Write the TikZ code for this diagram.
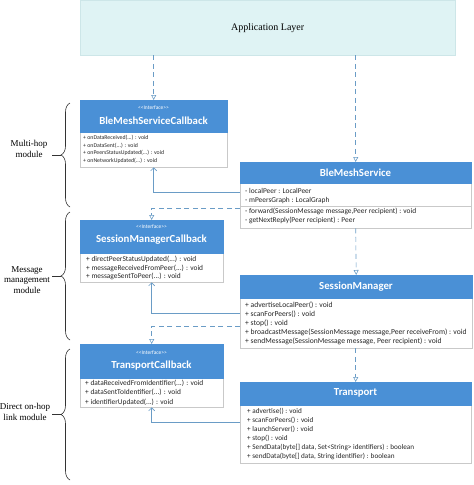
\documentclass[tikz,border=0pt]{standalone}
\usepackage{fontspec}
\setmainfont{Liberation Serif}
\newfontfamily\classfont{Carlito}
\usetikzlibrary{arrows.meta,decorations.pathreplacing}
\definecolor{hblue}{HTML}{4A90D6}
\definecolor{appfill}{HTML}{DFF3F4}
\definecolor{appline}{HTML}{CDE6E8}
\definecolor{conn}{HTML}{6A9CC6}
\definecolor{boxline}{HTML}{C9C9C9}
\definecolor{memtxt}{HTML}{262626}
\tikzset{
  appbox/.style={draw=appline, fill=appfill, anchor=north west, font=\fontsize{10}{12}\selectfont},
  cbox/.style={draw=boxline, fill=white, anchor=north west, inner sep=0pt},
  hdr/.style={fill=hblue, draw=hblue, anchor=north west, inner sep=0pt},
  stereo/.style={text=white, font=\classfont\fontsize{5.5}{6}\selectfont, inner sep=0pt},
  ctitle/.style={text=white, font=\classfont\bfseries\fontsize{10.8}{12}\selectfont, inner sep=0pt},
  members/.style={text=memtxt, anchor=north west, align=left, inner sep=0pt, font=\classfont\fontsize{7.4}{9.2}\selectfont},
  realize/.style={conn, semithick, dash pattern=on 5pt off 3.5pt, -{Triangle[open, length=5pt, width=5pt]}},
  assoc/.style={conn, semithick, -{Straight Barb[length=3pt, width=6pt]}},
  lbl/.style={align=center, font=\fontsize{9}{10.5}\selectfont, inner sep=0pt},
  bracedraw/.style={draw=black!80, semithick, decorate, decoration={brace, amplitude=9pt}}
}
\begin{document}
\begin{tikzpicture}[x=1pt,y=-1pt]
\useasboundingbox (0,0) rectangle (474,485);

% Application layer
\node[appbox, minimum width=375pt, minimum height=55pt] (app) at (80,0) {Application Layer};

% BleMeshServiceCallback
\node[cbox, minimum width=147pt, minimum height=67pt] (bmsc) at (80,100) {};
\node[hdr, minimum width=147pt, minimum height=32pt] (bmscH) at (80,100) {};
\node[stereo] (bmscS) at (153.5,108) {<<Interface>>};
\node[ctitle] (bmscT) at (153.5,121) {BleMeshServiceCallback};
\node[members, font=\classfont\fontsize{5.8}{7.7}\selectfont] (bmscM) at (83,135) {+ onDataReceived(...) : void\\+ onDataSent(...) : void\\+ onPeersStatusUpdated(...) : void\\+ onNetworkUpdated(...) : void};

% BleMeshService
\node[cbox, minimum width=231pt, minimum height=66pt] (bms) at (240,162) {};
\node[hdr, minimum width=231pt, minimum height=21pt] (bmsH) at (240,162) {};
\node[ctitle] (bmsT) at (355.5,173) {BleMeshService};
\node[members, font=\classfont\fontsize{7.4}{9.5}\selectfont] (bmsA) at (245,188) {- localPeer : LocalPeer\\- mPeersGraph : LocalGraph};
\draw[boxline] (bms.west |- 0,206.5) -- (bms.east |- 0,206.5);
\node[members] (bmsO) at (245,207.5) {- forward(SessionMessage message,Peer recipient) : void\\- getNextReply(Peer recipient) : Peer};

% SessionManagerCallback
\node[cbox, minimum width=143pt, minimum height=62pt] (smc) at (80,220) {};
\node[hdr, minimum width=143pt, minimum height=33pt] (smcH) at (80,220) {};
\node[stereo] (smcS) at (151.5,227) {<<Interface>>};
\node[ctitle] (smcT) at (151.5,240) {SessionManagerCallback};
\node[members, font=\classfont\fontsize{7.4}{8.6}\selectfont] (smcM) at (86,256) {+ directPeerStatusUpdated(...) : void\\+ messageReceivedFromPeer(...) : void\\+ messageSentToPeer(...) : void};

% SessionManager
\node[cbox, minimum width=232pt, minimum height=73pt] (sm) at (240,275) {};
\node[hdr, minimum width=232pt, minimum height=23pt] (smH) at (240,275) {};
\node[ctitle] (smT) at (356,287) {SessionManager};
\node[members, font=\classfont\fontsize{7.6}{8.9}\selectfont] (smM) at (245,302) {+ advertiseLocalPeer() : void\\+ scanForPeers() : void\\+ stop() : void\\+ broadcastMessage(SessionMessage message,Peer receiveFrom) : void\\+ sendMessage(SessionMessage message, Peer recipient) : void};

% TransportCallback
\node[cbox, minimum width=143pt, minimum height=63pt] (tc) at (80,344) {};
\node[hdr, minimum width=143pt, minimum height=34pt] (tcH) at (80,344) {};
\node[stereo] (tcS) at (151.5,353) {<<Interface>>};
\node[ctitle] (tcT) at (151.5,366) {TransportCallback};
\node[members] (tcM) at (85,380) {+ dataReceivedFromIdentifier(...) : void\\+ dataSentToIdentifier(...) : void\\+ identifierUpdated(...) : void};

% Transport
\node[cbox, minimum width=231pt, minimum height=81pt] (tr) at (240,382) {};
\node[hdr, minimum width=231pt, minimum height=23pt] (trH) at (240,382) {};
\node[ctitle] (trT) at (355.5,393) {Transport};
\node[members, font=\classfont\fontsize{7.2}{9}\selectfont] (trM) at (247,408) {+ advertise() : void\\+ scanForPeers() : void\\+ launchServer() : void\\+ stop() : void\\+ SendData(byte[] data, Set<String> identifiers) : boolean\\+ sendData(byte[] data, String identifier) : boolean};

% connectors
\draw[realize] (app.south -| bmsc.north) -- (bmsc.north);
\draw[realize] (app.south -| bms.north) -- (bms.north);
\draw[assoc] ([yshift=-30pt]bms.north west) -| (bmsc.south);
\draw[realize] ([yshift=-46pt]bms.north west) -| (smc.north);
\draw[realize] (bms.south) -- (sm.north);
\draw[assoc] ([yshift=-38pt]sm.north west) -| (smc.south);
\draw[realize] ([yshift=-51pt]sm.north west) -| (tc.north);
\draw[realize] (sm.south -| tr.north) -- (tr.north);
\draw[assoc] ([yshift=-40pt]tr.north west) -| (tc.south);

% module braces and labels
\draw[bracedraw] (70,207) -- (70,103);
\draw[black!80, semithick] (52,155) -- (61,155);
\node[lbl] (lab1) at (29,149) {Multi-hop\\module};

\draw[bracedraw] (70,340) -- (70,212);
\draw[black!80, semithick] (52,276) -- (61,276);
\node[lbl] (lab2) at (27,280) {Message\\management\\module};

\draw[bracedraw] (70,480) -- (70,349);
\draw[black!80, semithick] (52,414) -- (61,414);
\node[lbl] (lab3) at (25,412) {Direct on-hop\\link module};
\end{tikzpicture}
\end{document}
